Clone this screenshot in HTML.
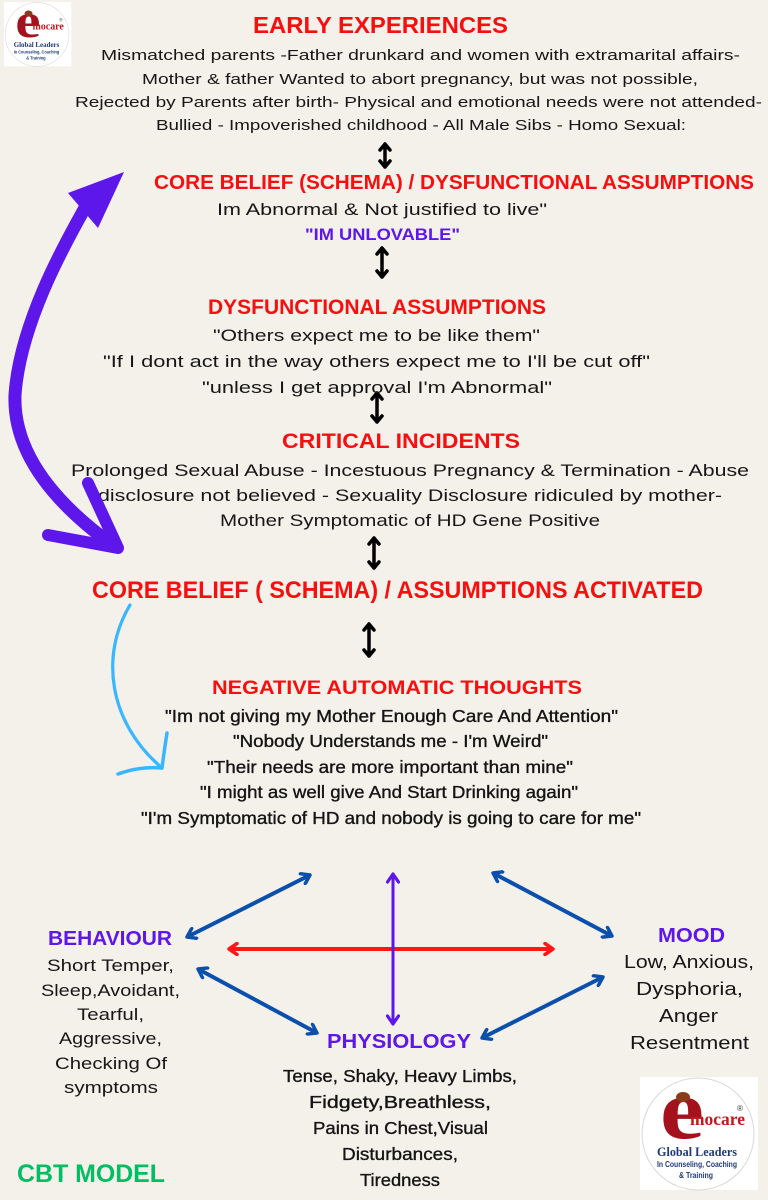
<!DOCTYPE html>
<html>
<head>
<meta charset="utf-8">
<style>
html,body{margin:0;padding:0;background:#f4f0ea;}
svg{display:block;}
.h{font-family:"Liberation Sans",Arial,sans-serif;font-weight:bold;fill:#f70f0f;}
.b{font-family:"Liberation Sans",Arial,sans-serif;fill:#161616;}
.n{font-family:"Liberation Sans",Arial,sans-serif;fill:#141414;stroke:#141414;stroke-width:0.35;}
.p{font-family:"Liberation Sans",Arial,sans-serif;font-weight:bold;fill:#5e17eb;}
.lg{font-family:"Liberation Serif",serif;font-weight:bold;}
</style>
</head>
<body>
<svg width="768" height="1200" viewBox="0 0 768 1200" xmlns="http://www.w3.org/2000/svg">
<defs>
<marker id="mb" viewBox="0 0 14 14" refX="11" refY="7" markerWidth="14" markerHeight="14" markerUnits="userSpaceOnUse" orient="auto-start-reverse">
<path d="M3,1.5 L11,7 L3,12.5" fill="none" stroke="#0b4fad" stroke-width="3.5" stroke-linecap="round" stroke-linejoin="round"/>
</marker>
<marker id="mp" viewBox="0 0 14 14" refX="11" refY="7" markerWidth="14" markerHeight="14" markerUnits="userSpaceOnUse" orient="auto-start-reverse">
<path d="M3,1.5 L11,7 L3,12.5" fill="none" stroke="#5e17eb" stroke-width="3.2" stroke-linecap="round" stroke-linejoin="round"/>
</marker>
<marker id="mr" viewBox="0 0 14 14" refX="11" refY="7" markerWidth="14" markerHeight="14" markerUnits="userSpaceOnUse" orient="auto-start-reverse">
<path d="M3,1.5 L11,7 L3,12.5" fill="none" stroke="#ff1616" stroke-width="3.5" stroke-linecap="round" stroke-linejoin="round"/>
</marker>
<g id="logo">
<rect x="0" y="0" width="118" height="113" fill="#ffffff"/>
<circle cx="58" cy="57" r="56" fill="#ffffff" stroke="#d8d8d8" stroke-width="1"/>
<text class="lg" x="20" y="61" font-size="86" fill="#a3121d" textLength="44" lengthAdjust="spacingAndGlyphs">e</text>
<ellipse cx="43" cy="20" rx="7" ry="5" fill="#8a3b1a"/>
<text class="lg" x="50" y="48" font-size="18" fill="#c4161c" textLength="55" lengthAdjust="spacingAndGlyphs">mocare</text>
<text x="97" y="34" font-size="8" font-family="Liberation Sans,sans-serif" fill="#333">®</text>
<text class="lg" x="17" y="79" font-size="13" fill="#1f3a7a" textLength="80" lengthAdjust="spacingAndGlyphs">Global Leaders</text>
<text x="17" y="90" font-size="8.5" font-family="Liberation Sans,sans-serif" font-weight="bold" fill="#1f3a7a" textLength="80" lengthAdjust="spacingAndGlyphs">In Counseling, Coaching</text>
<text x="39" y="101" font-size="8.5" font-family="Liberation Sans,sans-serif" font-weight="bold" fill="#1f3a7a" textLength="34" lengthAdjust="spacingAndGlyphs">&amp; Training</text>
</g>
</defs>

<rect x="0" y="0" width="768" height="1200" fill="#f4f0ea"/>

<!-- logos -->
<use href="#logo" transform="translate(4,2) scale(0.57)"/>
<use href="#logo" transform="translate(640,1077)"/>

<!-- EARLY EXPERIENCES -->
<text class="h" x="253" y="33" font-size="23" textLength="255" lengthAdjust="spacingAndGlyphs">EARLY EXPERIENCES</text>
<text class="b" x="101" y="60" font-size="15" textLength="639" lengthAdjust="spacingAndGlyphs">Mismatched parents -Father drunkard and women with extramarital affairs-</text>
<text class="b" x="142" y="84" font-size="15" textLength="556" lengthAdjust="spacingAndGlyphs">Mother &amp; father Wanted to abort pregnancy, but was not possible,</text>
<text class="b" x="75" y="107" font-size="15" textLength="687" lengthAdjust="spacingAndGlyphs">Rejected by Parents after birth- Physical and emotional needs were not attended-</text>
<text class="b" x="156" y="130" font-size="15" textLength="530" lengthAdjust="spacingAndGlyphs">Bullied - Impoverished childhood - All Male Sibs - Homo Sexual:</text>

<!-- black double arrows -->
<g fill="none" stroke="#000" stroke-width="3.5" stroke-linecap="round" stroke-linejoin="round">
<path d="M385 144 V167 M380 150 L385 144 L390 150 M380 161 L385 167 L390 161"/>
<path d="M382 248 V277 M377 254 L382 248 L387 254 M377 271 L382 277 L387 271"/>
<path d="M377 393 V422 M372 399 L377 393 L382 399 M372 416 L377 422 L382 416"/>
<path d="M374 538 V568 M369 544 L374 538 L379 544 M369 562 L374 568 L379 562"/>
<path d="M369 624 V656 M364 630 L369 624 L374 630 M364 650 L369 656 L374 650"/>
</g>

<!-- CORE BELIEF -->
<text class="h" x="154" y="189" font-size="20" textLength="600" lengthAdjust="spacingAndGlyphs">CORE BELIEF (SCHEMA) / DYSFUNCTIONAL ASSUMPTIONS</text>
<text class="b" x="217" y="215" font-size="17" textLength="330" lengthAdjust="spacingAndGlyphs">Im Abnormal &amp; Not justified to live"</text>
<text class="p" x="305" y="240" font-size="17" textLength="155" lengthAdjust="spacingAndGlyphs">"IM UNLOVABLE"</text>

<!-- DYSFUNCTIONAL ASSUMPTIONS -->
<text class="h" x="208" y="314" font-size="21" textLength="338" lengthAdjust="spacingAndGlyphs">DYSFUNCTIONAL ASSUMPTIONS</text>
<text class="b" x="213" y="341" font-size="17" textLength="327" lengthAdjust="spacingAndGlyphs">"Others expect me to be like them"</text>
<text class="b" x="103" y="367" font-size="17" textLength="547" lengthAdjust="spacingAndGlyphs">"If I dont act in the way others expect me to I'll be cut off"</text>
<text class="b" x="202" y="393" font-size="17" textLength="350" lengthAdjust="spacingAndGlyphs">"unless I get approval I'm Abnormal"</text>

<!-- CRITICAL INCIDENTS -->
<text class="h" x="282" y="448" font-size="21" textLength="238" lengthAdjust="spacingAndGlyphs">CRITICAL INCIDENTS</text>
<text class="b" x="71" y="476" font-size="17" textLength="678" lengthAdjust="spacingAndGlyphs">Prolonged  Sexual Abuse -   Incestuous Pregnancy &amp; Termination - Abuse</text>
<text class="b" x="98" y="501" font-size="17" textLength="624" lengthAdjust="spacingAndGlyphs">disclosure not believed  - Sexuality Disclosure ridiculed by mother-</text>
<text class="b" x="220" y="526" font-size="17" textLength="380" lengthAdjust="spacingAndGlyphs">Mother Symptomatic of HD Gene Positive</text>

<!-- ACTIVATED -->
<text class="h" x="92" y="598" font-size="24" textLength="611" lengthAdjust="spacingAndGlyphs">CORE BELIEF ( SCHEMA) / ASSUMPTIONS ACTIVATED</text>

<!-- NAT -->
<text class="h" x="212" y="694" font-size="19" textLength="370" lengthAdjust="spacingAndGlyphs">NEGATIVE AUTOMATIC THOUGHTS</text>
<text class="n" x="165" y="722" font-size="17.5" textLength="453" lengthAdjust="spacingAndGlyphs">"Im not giving my Mother Enough Care And Attention"</text>
<text class="n" x="233" y="747" font-size="17.5" textLength="315" lengthAdjust="spacingAndGlyphs">"Nobody Understands me - I'm Weird"</text>
<text class="n" x="207" y="773" font-size="17.5" textLength="366" lengthAdjust="spacingAndGlyphs">"Their needs are more important than mine"</text>
<text class="n" x="200" y="798" font-size="17.5" textLength="378" lengthAdjust="spacingAndGlyphs">"I might as well give And Start Drinking again"</text>
<text class="n" x="141" y="824" font-size="17.5" textLength="500" lengthAdjust="spacingAndGlyphs">"I'm Symptomatic of HD and nobody is going to care for me"</text>

<!-- purple curved arrow -->
<path d="M86 206 C70 235, 20 320, 15 395 C13 450, 50 500, 114 546" fill="none" stroke="#5e17eb" stroke-width="13" stroke-linecap="round"/>
<polygon points="68,193 124,172 98,228" fill="#5e17eb"/>
<path d="M88 483 L118 548 L48 535" fill="none" stroke="#5e17eb" stroke-width="12" stroke-linecap="round" stroke-linejoin="round"/>

<!-- light blue curve -->
<path d="M130 605 C100 655, 108 722, 162 768" fill="none" stroke="#38b6ff" stroke-width="3.2" stroke-linecap="round"/>
<path d="M167 733 Q164 752 162 768 Q140 766 118 774" fill="none" stroke="#38b6ff" stroke-width="3.5" stroke-linecap="round" stroke-linejoin="round"/>

<!-- bottom arrows -->
<line x1="187" y1="937" x2="310" y2="875" stroke="#0b4fad" stroke-width="4" marker-start="url(#mb)" marker-end="url(#mb)"/>
<line x1="493" y1="873" x2="612" y2="936" stroke="#0b4fad" stroke-width="4" marker-start="url(#mb)" marker-end="url(#mb)"/>
<line x1="198" y1="969" x2="317" y2="1033" stroke="#0b4fad" stroke-width="4" marker-start="url(#mb)" marker-end="url(#mb)"/>
<line x1="482" y1="1038" x2="603" y2="977" stroke="#0b4fad" stroke-width="4" marker-start="url(#mb)" marker-end="url(#mb)"/>
<line x1="229" y1="949" x2="553" y2="949" stroke="#ff1616" stroke-width="4" marker-start="url(#mr)" marker-end="url(#mr)"/>
<line x1="393" y1="874" x2="393" y2="1024" stroke="#5e17eb" stroke-width="3" marker-start="url(#mp)" marker-end="url(#mp)"/>

<!-- BEHAVIOUR -->
<text class="p" x="48" y="945" font-size="20" textLength="124" lengthAdjust="spacingAndGlyphs">BEHAVIOUR</text>
<text class="b" x="47" y="971" font-size="16.5" textLength="127" lengthAdjust="spacingAndGlyphs">Short Temper,</text>
<text class="b" x="41" y="996" font-size="16.5" textLength="139" lengthAdjust="spacingAndGlyphs">Sleep,Avoidant,</text>
<text class="b" x="77" y="1020" font-size="16.5" textLength="67" lengthAdjust="spacingAndGlyphs">Tearful,</text>
<text class="b" x="59" y="1044" font-size="16.5" textLength="103" lengthAdjust="spacingAndGlyphs">Aggressive,</text>
<text class="b" x="55" y="1069" font-size="16.5" textLength="112" lengthAdjust="spacingAndGlyphs">Checking Of</text>
<text class="b" x="64" y="1093" font-size="16.5" textLength="94" lengthAdjust="spacingAndGlyphs">symptoms</text>

<!-- MOOD -->
<text class="p" x="658" y="942" font-size="20" textLength="67" lengthAdjust="spacingAndGlyphs">MOOD</text>
<text class="b" x="624" y="968" font-size="18" textLength="130" lengthAdjust="spacingAndGlyphs">Low, Anxious,</text>
<text class="b" x="636" y="995" font-size="18" textLength="107" lengthAdjust="spacingAndGlyphs">Dysphoria,</text>
<text class="b" x="659" y="1022" font-size="18" textLength="59" lengthAdjust="spacingAndGlyphs">Anger</text>
<text class="b" x="630" y="1049" font-size="18" textLength="119" lengthAdjust="spacingAndGlyphs">Resentment</text>

<!-- PHYSIOLOGY -->
<text class="p" x="327" y="1048" font-size="20" textLength="144" lengthAdjust="spacingAndGlyphs">PHYSIOLOGY</text>
<text class="n" x="283" y="1082" font-size="17.5" textLength="234" lengthAdjust="spacingAndGlyphs">Tense, Shaky, Heavy Limbs,</text>
<text class="n" x="309" y="1108" font-size="17.5" textLength="182" lengthAdjust="spacingAndGlyphs">Fidgety,Breathless,</text>
<text class="n" x="313" y="1134" font-size="17.5" textLength="175" lengthAdjust="spacingAndGlyphs">Pains in Chest,Visual</text>
<text class="n" x="342" y="1160" font-size="17.5" textLength="116" lengthAdjust="spacingAndGlyphs">Disturbances,</text>
<text class="n" x="360" y="1186" font-size="17.5" textLength="80" lengthAdjust="spacingAndGlyphs">Tiredness</text>

<!-- CBT MODEL -->
<text x="17" y="1182" font-family="Liberation Sans,Arial,sans-serif" font-weight="bold" font-size="25" fill="#00bf63" textLength="148" lengthAdjust="spacingAndGlyphs">CBT MODEL</text>
</svg>
</body>
</html>
